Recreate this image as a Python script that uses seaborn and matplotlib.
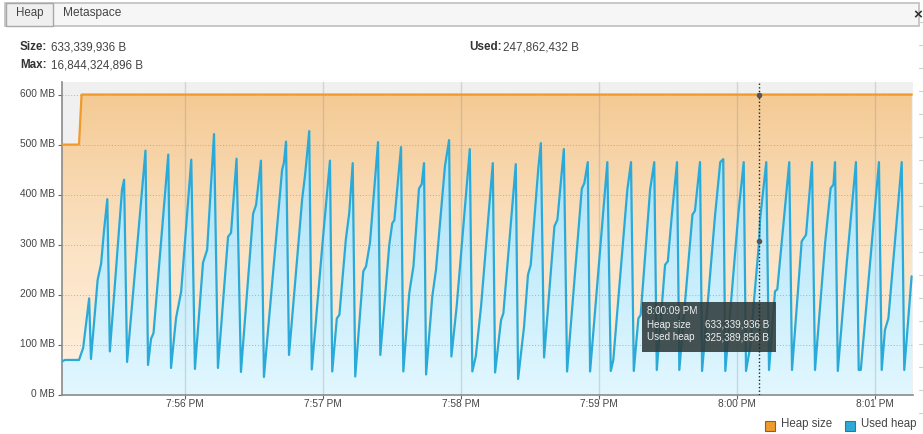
import numpy as np
import seaborn as sns
import matplotlib.pyplot as plt
from matplotlib.colors import LinearSegmentedColormap
from matplotlib.lines import Line2D
from matplotlib.patches import Rectangle
from matplotlib.transforms import ScaledTranslation

# seconds after 7:55 PM
size_t = [6.5, 13.9, 15.0, 376.0]
size_mb = [500, 500, 600, 600]

used_t = [6.5, 7.8, 13.9, 15.7, 18.3, 19.1, 22.0, 23.5, 24.8, 26.2, 27.3, 32.6, 33.5, 34.8,
          42.8, 43.9, 45.2, 46.3, 52.7, 53.9, 56.1, 58.3, 62.7, 64.3, 67.8, 69.6, 72.6, 74.3,
          78.7, 80.0, 82.4, 84.3, 89.6, 90.9, 93.0, 94.3, 102.2, 103.0, 103.9, 105.2, 110.9,
          112.2, 114.0, 115.1, 119.9, 123.0, 124.0, 126.0, 127.1, 129.9, 131.4, 132.9, 134.0,
          137.5, 138.7, 140.4, 143.9, 144.9, 148.8, 150.1, 151.0, 153.9, 154.9, 157.5, 159.3,
          161.7, 162.9, 163.9, 164.8, 167.5, 169.1, 173.0, 174.8, 175.8, 178.1, 183.8, 184.9,
          186.4, 188.7, 193.8, 194.8, 197.4, 198.4, 203.8, 204.8, 207.4, 209.1, 210.3, 213.6,
          214.7, 216.1, 220.6, 221.9, 224.7, 226.1, 232.5, 233.6, 235.1, 236.1, 243.6, 245.1,
          246.2, 252.3, 253.9, 255.1, 257.1, 258.1, 262.2, 264.0, 265.1, 268.7, 269.9, 271.6,
          273.9, 274.9, 280.6, 281.7, 283.9, 284.8, 290.4, 292.7, 294.0, 294.9, 300.6, 302.9,
          303.9, 305.7, 307.4, 309.6, 310.0, 312.7, 313.9, 316.5, 317.5, 322.7, 323.9, 328.1,
          330.0, 332.6, 333.9, 338.3, 340.7, 341.9, 342.6, 343.8, 347.7, 351.7, 352.9, 353.8,
          358.6, 361.7, 362.9, 364.3, 365.8, 371.6, 372.7, 375.9]
used_mb = [67, 70, 70, 94, 193, 72, 230, 262, 330, 391, 87, 410, 430, 66,
           488, 60, 112, 124, 480, 54, 154, 206, 470, 52, 264, 290, 521, 54,
           316, 324, 472, 46, 362, 380, 468, 36, 450, 464, 506, 80, 390,
           440, 527, 51, 310, 468, 47, 153, 160, 310, 364, 463, 37,
           247, 257, 304, 505, 80, 300, 343, 349, 495, 47, 204, 257,
           412, 421, 463, 41, 197, 250, 457, 509, 77, 177, 491, 47,
           77, 177, 463, 45, 150, 163, 461, 32, 137, 240, 260, 453,
           503, 75, 337, 350, 491, 47, 412, 423, 465, 47, 465, 48,
           70, 410, 465, 48, 153, 160, 410, 465, 50, 260, 267, 357,
           465, 50, 360, 368, 465, 48, 357, 465, 471, 48, 364, 465,
           48, 96, 190, 307, 350, 465, 50, 207, 211, 465, 50, 307,
           320, 465, 50, 304, 413, 420, 465, 48, 264, 465, 50, 50,
           304, 465, 50, 130, 153, 465, 50, 237]

y_ticks = [0, 100, 200, 300, 400, 500, 600]
y_labels = ["0 MB", "100 MB", "200 MB", "300 MB", "400 MB", "500 MB", "600 MB"]
x_ticks = [60, 120, 180, 240, 300, 360]
x_labels = ["7:56 PM", "7:57 PM", "7:58 PM", "7:59 PM", "8:00 PM", "8:01 PM"]

hover_t = 309.6
hover_used = 307
hover_size = 600

W, H = 923, 434
ORANGE = "#f09a2c"
BLUE = "#2aaad8"
TEXT = "#444444"

sns.set_theme(style="white")
plt.rcParams["font.family"] = ["Liberation Sans", "DejaVu Sans"]

fig = plt.figure(figsize=(W / 100, H / 100), dpi=100)
ax = fig.add_axes([62 / W, 1 - 395 / H, (913 - 62) / W, (395 - 82) / H])
ax.set_facecolor("#f0f0f0")


def fx(x):
    return x / W


def fy(y):
    return 1 - y / H


def gradient_fill(xs, ys, colors, top, z):
    # vertical gradient clipped to the area under a line
    poly = ax.fill_between(xs, 0, ys, color="none", lw=0, zorder=z)
    cmap = LinearSegmentedColormap.from_list("g", colors)
    grad = np.linspace(1, 0, 256).reshape(-1, 1)
    img = ax.imshow(grad, cmap=cmap, vmin=0, vmax=1, aspect="auto", zorder=z,
                    extent=[size_t[0], size_t[-1], 0, top], origin="upper")
    img.set_clip_path(poly.get_paths()[0], transform=ax.transData)


gradient_fill(size_t, size_mb, ["#fff2e2", "#fbe2c3", "#f4ca94"], 600, 1)
gradient_fill(used_t, used_mb, ["#e2f7ff", "#c4ecfb", "#a6dff6"], 530, 2)

for v in y_ticks[1:]:
    ax.axhline(v, color="#999999", lw=0.7, ls=(0, (1, 2)), alpha=0.7, zorder=3)
for v in x_ticks:
    ax.axvline(v, color="#888888", lw=1, alpha=0.28, zorder=3)

sns.lineplot(x=size_t, y=size_mb, color=ORANGE, lw=1.6, ax=ax, estimator=None,
             sort=False, zorder=4)
sns.lineplot(x=used_t, y=used_mb, color=BLUE, lw=1.6, ax=ax, estimator=None,
             sort=False, zorder=4)

ax.set_xlim(6.5, 376.5)
ax.set_ylim(0, 625)
ax.set_xticks(x_ticks, x_labels)
ax.set_yticks(y_ticks, y_labels)
ax.tick_params(axis="both", length=3, width=0.8, color="#666666", labelcolor=TEXT,
               labelsize=7.3, pad=2, bottom=True, left=True)
ax.tick_params(axis="x", pad=0)
# the y labels sit about 2 px above their ticks
nudge = ScaledTranslation(0, 2 / 100, fig.dpi_scale_trans)
for lab in ax.get_yticklabels():
    lab.set_transform(lab.get_transform() + nudge)
for name, spine in ax.spines.items():
    spine.set_visible(name in ("left", "bottom"))
    spine.set_color("#8a8a8a")
    spine.set_linewidth(1.2)

# hover marker
ax.axvline(hover_t, color="#222222", lw=1, ls=(0, (1, 1.6)), zorder=7)
sns.scatterplot(x=[hover_t, hover_t], y=[hover_used, hover_size], color="#555555", s=16,
                linewidth=0, ax=ax, zorder=8)

# tooltip
fig.add_artist(Rectangle((fx(642), fy(352)), 134 / W, 50.5 / H, transform=fig.transFigure,
                         fc="#2f3b3b", ec="none", alpha=0.88, zorder=5))
fig.add_artist(Line2D([fx(759), fx(759)], [fy(352), fy(302)], color="#222222", lw=1,
                      ls=(0, (1, 1.6)), zorder=6))
for y, left, right in [(311, "8:00:09 PM", ""), (324.5, "Heap size", "633,339,936 B"),
                       (337.5, "Used heap", "325,389,856 B")]:
    fig.text(fx(647), fy(y), left, color="#f0f0f0", fontsize=7.1, va="center", zorder=7)
    if right:
        fig.text(fx(705), fy(y), right, color="#f0f0f0", fontsize=7.1, va="center", zorder=7)

# tab bar
fig.add_artist(Rectangle((fx(5), fy(26)), 914 / W, 23 / H, transform=fig.transFigure,
                         fc="#f6f6f6", ec="#c4c4c4", lw=1.3))
fig.add_artist(Rectangle((fx(6), fy(26)), 47 / W, 23 / H, transform=fig.transFigure,
                         fc="#efefef", ec="#a8a8a8", lw=1))
fig.text(fx(16), fy(13), "Heap", color=TEXT, fontsize=8.3, va="center")
fig.text(fx(63), fy(13), "Metaspace", color=TEXT, fontsize=8.6, va="center")
fig.text(fx(913), fy(15), "\u00d7", color="#333333", fontsize=11, fontweight="bold", va="center")

# faint ticks along the right edge of the panel
for y in range(22, 420, 23):
    fig.add_artist(Line2D([fx(919), fx(923)], [fy(y), fy(y)], color="#d0d0d0", lw=0.8))

# header numbers
for x, y, label, value in [(20, 47, "Size:", "633,339,936 B"), (20, 65, "Max:", "16,844,324,896 B"),
                           (469, 47, "Used:", "247,862,432 B")]:
    fig.text(fx(x), fy(y), label, color="#333333", fontsize=8.4, fontweight="bold", va="center")
    fig.text(fx(x + 31 if label != "Used:" else x + 34), fy(y), value, color=TEXT, fontsize=8.4,
             va="center")

# legend
for x, colour, label in [(765, ORANGE, "Heap size"), (845, BLUE, "Used heap")]:
    fig.add_artist(Rectangle((fx(x), fy(431)), 10 / W, 10 / H, transform=fig.transFigure,
                             fc=colour, ec="#666666", lw=0.8))
    fig.text(fx(x + 16), fy(423.5), label, color=TEXT, fontsize=8.3, va="center")

fig.savefig("out.png", dpi=100)
